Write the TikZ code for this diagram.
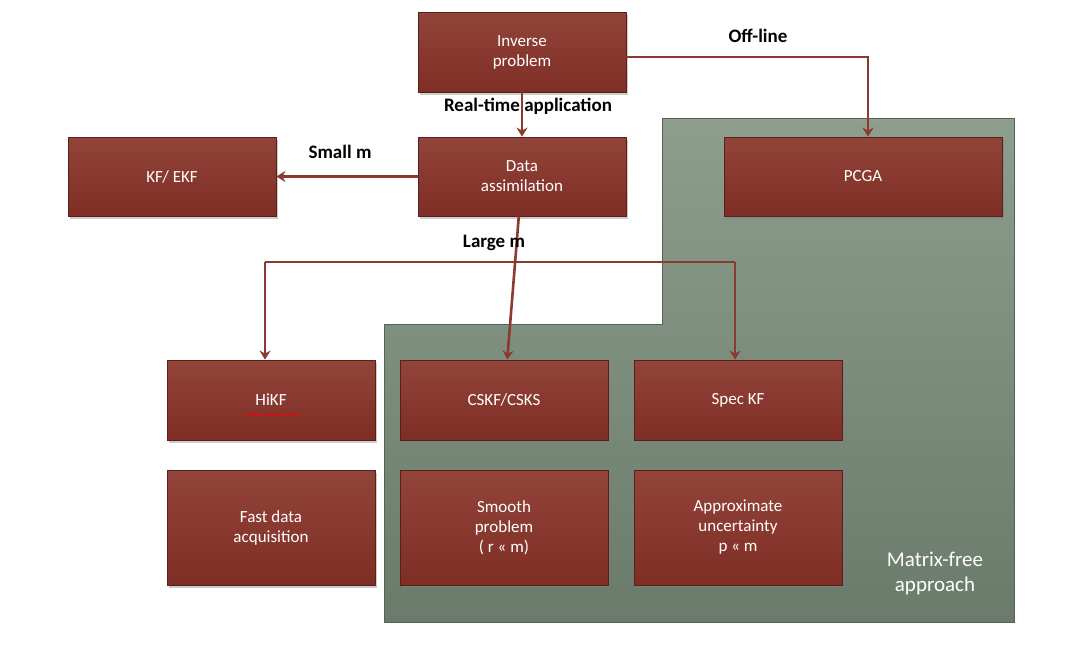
\documentclass[tikz,border=0pt]{standalone}
\usepackage{fontspec}
\setmainfont{Carlito}
\usetikzlibrary{shadows,decorations.pathmorphing,arrows.meta}
\definecolor{boxr}{HTML}{7E2E24}
\definecolor{boxt}{HTML}{93443A}
\definecolor{lnk}{HTML}{8B3A30}
\definecolor{gtop}{HTML}{8E9E8E}
\definecolor{gbot}{HTML}{6A7B6B}
\begin{document}
\begin{tikzpicture}[x=1pt,y=-1pt,
 box/.style={draw=boxr!70!black,line width=0.8pt,top color=boxt,bottom color=boxr,
   text=white,font=\fontsize{17}{20}\selectfont,align=center,inner sep=0pt,
   drop shadow={shadow xshift=2pt,shadow yshift=-3pt,opacity=0.4}},
 lab/.style={font=\bfseries\fontsize{19}{22}\selectfont,text=black},
 con/.style={draw=lnk,line width=2.6pt,-{Stealth[length=9pt,width=11pt]}}]
\useasboundingbox (0,0) rectangle (1080,662);
\shade[top color=gtop,bottom color=gbot,draw=gbot!80!black,line width=0.5pt]
 (662,118)--(1014,118)--(1014,622)--(384,622)--(384,324)--(662,324)--cycle;
\def\bx#1#2#3#4#5#6{\node[box,minimum width=#4-#2,minimum height=#5-#3] (#1) at ({(#2+#4)/2},{(#3+#5)/2}) {#6};}
\bx{inv}{418}{12}{626}{92}{Inverse\\problem}
\bx{kf}{68}{137}{276}{216}{KF/ EKF}
\bx{da}{418}{137}{626}{216}{Data\\assimilation}
\bx{pcga}{724}{137}{1002}{216}{PCGA}
\bx{hikf}{167}{360}{375}{440}{HiKF}
\bx{cskf}{400}{360}{608}{440}{CSKF/CSKS}
\bx{spec}{634}{360}{842}{440}{Spec KF}
\bx{fast}{167}{470}{375}{585}{Fast data\\acquisition}
\bx{smooth}{400}{470}{608}{585}{Smooth\\problem\\( r << m)}
\bx{approx}{634}{470}{842}{585}{Approximate\\uncertainty\\p << m}
\draw[red,line width=0.6pt,decorate,decoration={snake,amplitude=0.8pt,segment length=3pt}] (246,415)--(300,415);
\node[text=white,font=\fontsize{21}{25}\selectfont,align=center] (mf) at (935,573) {Matrix-free\\approach};
\coordinate (c1) at (868,57);
\coordinate (hl) at (265,262);
\coordinate (hr) at (735,262);
\coordinate (hm) at (522,262);
\draw[con] (inv) -- (da);
\draw[con] (inv.east |- 0,57) -- (c1) -- (pcga.north -| c1);
\draw[con] (da.west) -- (kf.east);
\draw[con] (da) -- (cskf);
\draw[draw=lnk,line width=2.6pt] (hl) -- (hr);
\draw[con] (hl) -- (hikf.north -| hl);
\draw[con] (hr) -- (spec.north -| hr);
\node[lab] (l1) at (758,36) {Off-line};
\node[lab] (l2) at (528,106) {Real-time application};
\node[lab] (l3) at (340,152) {Small m};
\node[lab] (l4) at (494,243) {Large m};
\end{tikzpicture}
\end{document}
